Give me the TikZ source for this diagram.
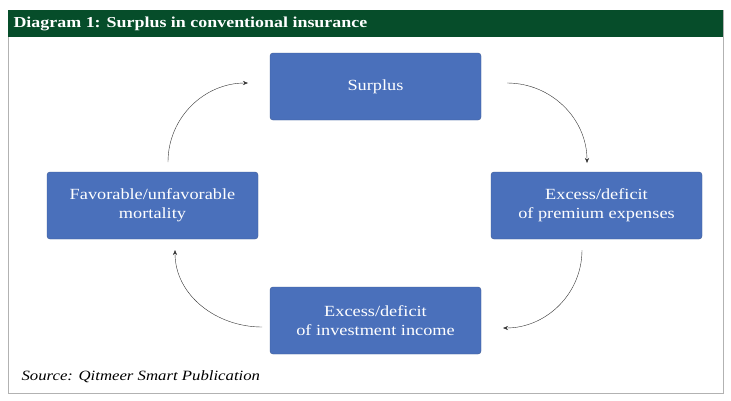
\documentclass[tikz,border=0pt]{standalone}
\usepackage{fontspec}
\setmainfont{Liberation Serif}[FakeStretch=1.18]
\usetikzlibrary{arrows.meta}
\definecolor{hdr}{HTML}{064D2A}
\definecolor{boxc}{HTML}{4A70BB}
\begin{document}
\begin{tikzpicture}[x=1pt,y=-1pt,
  box/.style={fill=boxc,draw=boxc!80!black,line width=0.4pt,rounded corners=3pt,minimum width=211pt,minimum height=67pt,text=white,align=center,font=\fontsize{15.5}{19}\selectfont},
  arr/.style={-{Stealth[length=5pt,width=4pt]},line width=0.4pt,black!80}]
\useasboundingbox (0,0) rectangle (731,400);
\fill[white] (0,0) rectangle (731,400);
\draw[black!30,line width=0.6pt] (8,10) rectangle (723,393);
\fill[hdr] (8,10) rectangle (723,37);
\node[anchor=west,text=white,font=\bfseries\fontsize{15.2}{18}\selectfont] (t) at (10,24) {Diagram 1: Surplus in conventional insurance};
\node[box] (s) at (375.5,86.5) {Surplus};
\node[box] (r) at (596.5,205.5) {Excess/deficit\\of premium expenses};
\node[box] (b) at (375.5,320.5) {Excess/deficit\\of investment income};
\node[box] (l) at (152.5,205.5) {Favorable/unfavorable\\mortality};
\coordinate (a1) at (507,83); \coordinate (a2) at (587,163);
\coordinate (b1) at (582,250); \coordinate (b2) at (503,328);
\coordinate (c1) at (262,327); \coordinate (c2) at (175,250);
\coordinate (d1) at (168,162); \coordinate (d2) at (248,83);
\draw[arr] (a1) to[out=0,in=90] (a2);
\draw[arr] (b1) to[out=-90,in=0] (b2);
\draw[arr] (c1) to[out=180,in=-90] (c2);
\draw[arr] (d1) to[out=90,in=180] (d2);
\node[anchor=west,font=\itshape\fontsize{14.2}{17}\selectfont] (src) at (18,377) {Source: Qitmeer Smart Publication};
\end{tikzpicture}
\end{document}
